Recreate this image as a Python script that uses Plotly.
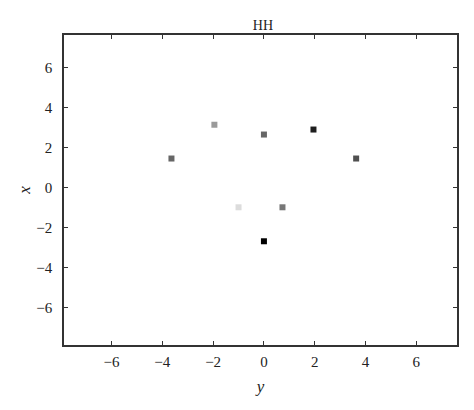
import plotly.graph_objects as go

# point positions (horizontal axis = y, vertical axis = x) and grey levels
pos_y = [-1.95, 0.0, 1.95, -3.64, 3.63, -1.0, 0.73, 0.0]
pos_x = [3.15, 2.66, 2.91, 1.46, 1.46, -0.98, -0.98, -2.68]
shade = ["#9a9a9a", "#666666", "#1e1e1e", "#666666", "#505050", "#dcdcdc", "#777777", "#000000"]

tick_vals = [-6, -4, -2, 0, 2, 4, 6]
tick_text = ["\u22126", "\u22124", "\u22122", "0", "2", "4", "6"]

font = dict(family="Liberation Serif, DejaVu Serif, serif", size=15, color="#222")

fig = go.Figure(
    go.Scatter(
        x=pos_y,
        y=pos_x,
        mode="markers",
        marker=dict(symbol="square", size=6, color=shade, line=dict(width=0)),
        showlegend=False,
    )
)

axis = dict(
    tickvals=tick_vals,
    ticktext=tick_text,
    ticks="inside",
    ticklen=4,
    tickwidth=1,
    tickcolor="#333",
    showline=True,
    linecolor="#333",
    linewidth=1.5,
    mirror="ticks",
    showgrid=False,
    zeroline=False,
    tickfont=font,
)

fig.update_xaxes(axis, range=[-7.87, 7.6], ticklabelstandoff=2,
                 title=dict(text="<i>y</i>", font=dict(font, size=17), standoff=11))
fig.update_yaxes(axis, range=[-7.87, 7.64], ticklabelstandoff=7,
                 title=dict(text="<i>x</i>", font=dict(font, size=17), standoff=1))

# page body adds 8px around the figure, so the canvas is 8px smaller here
fig.update_layout(
    width=466,
    height=402,
    margin=dict(l=56, r=17, t=27, b=65),
    paper_bgcolor="white",
    plot_bgcolor="white",
    title=dict(text="HH", x=0.547, xanchor="center", y=0.957, yanchor="middle",
               font=dict(font, size=14)),
    font=font,
)

fig.write_html("out.html")
